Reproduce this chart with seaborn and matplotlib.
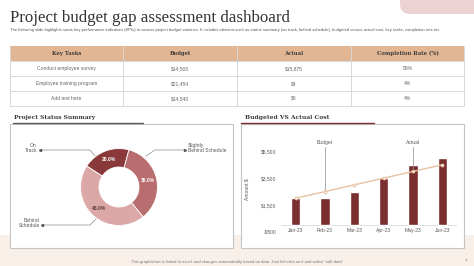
import matplotlib
matplotlib.use("Agg")
import matplotlib.pyplot as plt
import seaborn as sns
from matplotlib.patches import Rectangle, FancyBboxPatch

# text
title = "Project budget gap assessment dashboard"
subtitle = ("The following slide highlights some key performance indicators (KPIs) to assess project budget variance. "
            "It includes element such as status summary (on track, behind schedule), budgeted versus actual cost, "
            "key tasks, completion rate etc.")
footer = ('This graph/chart is linked to excel, and changes automatically based on data. '
          'Just left click on it and select "edit data"')

# table data
table_cols = ["Key Tasks", "Budget", "Actual", "Completion Rate (%)"]
tasks = ["Conduct employee survey", "Employee training program", "Add text here"]
task_budget = ["$14,500", "$21,454", "$14,540"]
task_actual = ["$15,875", "$4", "$6"]
task_rate = ["95%", "4%", "4%"]

# donut data
status_labels = ["On\nTrack", "Behind\nSchedule", "Slightly\nBehind Schedule"]
status_share = [20, 45, 35]
status_colors = ["#8a393b", "#dba7a7", "#b86e6f"]

# bar / line data
months = ["Jan-23", "Feb-23", "Mar-23", "Apr-23", "May-23", "Jun-23"]
actual_cost = [2000, 2000, 2500, 3500, 4500, 5000]
budget_cost = [2000, 2500, 3000, 3500, 4000, 4500]
y_ticks = [-500, 1500, 3500, 5500]

sns.set_theme(style="white")
plt.rcParams["font.family"] = ["Liberation Sans", "DejaVu Sans"]

W, H = 474, 266
fig = plt.figure(figsize=(4.74, 2.66), dpi=100)
fig.patch.set_facecolor("white")

# background canvas in pixel coords
bg = fig.add_axes([0, 0, 1, 1])
bg.set_xlim(0, W)
bg.set_ylim(H, 0)
bg.axis("off")

bg.add_patch(FancyBboxPatch((400, -12), 90, 26, boxstyle="round,pad=0,rounding_size=10",
                            fc="#ecd2d3", ec="none"))
bg.text(10, 18, title, fontsize=12.2, family=["Liberation Serif"], color="#333333", va="center")
bg.text(10, 30.5, subtitle, fontsize=2.95, color="#555555", va="center")

# table
col_x = [10, 123, 237, 351, 464]
row_y = [46, 61, 76, 91, 106]
bg.add_patch(Rectangle((col_x[0], row_y[0]), col_x[-1] - col_x[0], row_y[1] - row_y[0],
                       fc="#e2b692", ec="none"))
for y in row_y[1:]:
    bg.plot([col_x[0], col_x[-1]], [y, y], color="#d8d8d8", lw=0.7)
for x in col_x:
    bg.plot([x, x], [row_y[0], row_y[-1]], color="#d8d8d8", lw=0.7)
for j, name in enumerate(table_cols):
    cx = (col_x[j] + col_x[j + 1]) / 2
    bg.text(cx, (row_y[0] + row_y[1]) / 2, name, fontsize=3.8, fontweight="bold",
            family=["DejaVu Serif"], color="#3a3a3a", ha="center", va="center")
rows = list(zip(tasks, task_budget, task_actual, task_rate))
for i, row in enumerate(rows):
    cy = (row_y[i + 1] + row_y[i + 2]) / 2
    for j, val in enumerate(row):
        cx = (col_x[j] + col_x[j + 1]) / 2
        bg.text(cx, cy, val, fontsize=3.6, color="#666666", ha="center", va="center")

# bottom band and panels
bg.add_patch(Rectangle((0, 235), W, 31, fc="#f8efe9", ec="none"))
bg.add_patch(Rectangle((10, 124), 223, 124, fc="white", ec="#c4c4c4", lw=0.8))
bg.add_patch(Rectangle((241, 124), 223, 124, fc="white", ec="#c4c4c4", lw=0.8))
bg.plot([13, 143], [123, 123], color="#595959", lw=1)
bg.plot([241, 374], [123, 123], color="#7a2e2e", lw=1)
bg.text(14, 117, "Project Status Summary", fontsize=4.3, fontweight="bold",
        family=["DejaVu Serif"], color="#3a3a3a", va="center")
bg.text(245, 117, "Budgeted VS Actual Cost", fontsize=4.3, fontweight="bold",
        family=["DejaVu Serif"], color="#3a3a3a", va="center")
bg.text(237, 262, footer, fontsize=3.0, color="#777777", ha="center", va="center")
bg.text(466, 261, "7", fontsize=3, color="#555555", ha="center", va="center")

# donut
cx0, cy0, half = 119, 187, 40
dax = fig.add_axes([(cx0 - half) / W, (H - cy0 - half) / H, 2 * half / W, 2 * half / H])
wedges, texts, autotexts = dax.pie(
    status_share, colors=status_colors, startangle=75, counterclock=True,
    autopct="%.1f%%", pctdistance=0.76,
    wedgeprops=dict(width=0.48, edgecolor="white", linewidth=0.6),
    textprops=dict(fontsize=3.6, fontweight="bold"))
for t, c in zip(autotexts, ["white", "#5a3a3a", "white"]):
    t.set_color(c)
dax.set_xlim(-1.04, 1.04)
dax.set_ylim(-1.04, 1.04)

# callouts (pixel coords on canvas)
callouts = [
    (status_labels[0], (40, 150), (90, 150), (96, 157), (37, 148), "right"),
    (status_labels[1], (42, 225), (90, 225), (97, 218), (40, 223), "right"),
    (status_labels[2], (185, 150), (155, 150), (146, 156), (188, 148), "left"),
]
for label, p_end, p_mid, p_start, tpos, ha in callouts:
    bg.plot([p_end[0], p_mid[0], p_start[0]], [p_end[1], p_mid[1], p_start[1]],
            color="#8c8c8c", lw=0.5)
    bg.plot([p_end[0]], [p_end[1]], marker="<" if ha == "right" else ">",
            ms=1.5, color="#555555")
    bg.text(tpos[0], tpos[1], label, fontsize=3.6, color="#595959", ha=ha, va="center",
            linespacing=1.1)

# bar + line chart
top_y, bot_y = 138, 231.7
ax = fig.add_axes([281 / W, (H - bot_y) / H, 176 / W, (bot_y - top_y) / H])
ax.patch.set_alpha(0)
sns.barplot(x=months, y=actual_cost, color="#7a2e2e", width=0.32, saturation=1, ax=ax)
sns.pointplot(x=months, y=budget_cost, color="#e8c2a2", markers="o", markersize=2,
              linewidth=1, ax=ax)
for line in ax.lines:
    line.set_markerfacecolor("white")
ax.axhline(0, color="#d9d9d9", lw=0.6, zorder=0)
ax.set_xlim(-0.5, 5.5)
ax.set_ylim(-500, 6500)
ax.set_yticks(y_ticks)
ax.set_yticklabels([("-$" if v < 0 else "$") + f"{abs(v):,}" for v in y_ticks])
for s in ax.spines.values():
    s.set_visible(False)
ax.tick_params(axis="both", length=0, labelsize=3.6, colors="#595959")
ax.tick_params(axis="x", pad=-3)
ax.tick_params(axis="y", pad=3)
ax.set_xlabel("")
ax.set_ylabel("Amount $", fontsize=3.6, color="#595959")
ax.yaxis.set_label_coords(-0.18, 0.45)

ax.text(1, 6150, "Budget", fontsize=3.6, color="#595959", ha="center", va="center")
ax.plot([1, 1], [5850, budget_cost[1] + 80], color="#8c8c8c", lw=0.5)
ax.text(4, 6150, "Actual", fontsize=3.6, color="#595959", ha="center", va="center")
ax.plot([4, 4], [5850, budget_cost[4] + 80], color="#8c8c8c", lw=0.5)

fig.savefig("out.png", dpi=100, facecolor="white")
